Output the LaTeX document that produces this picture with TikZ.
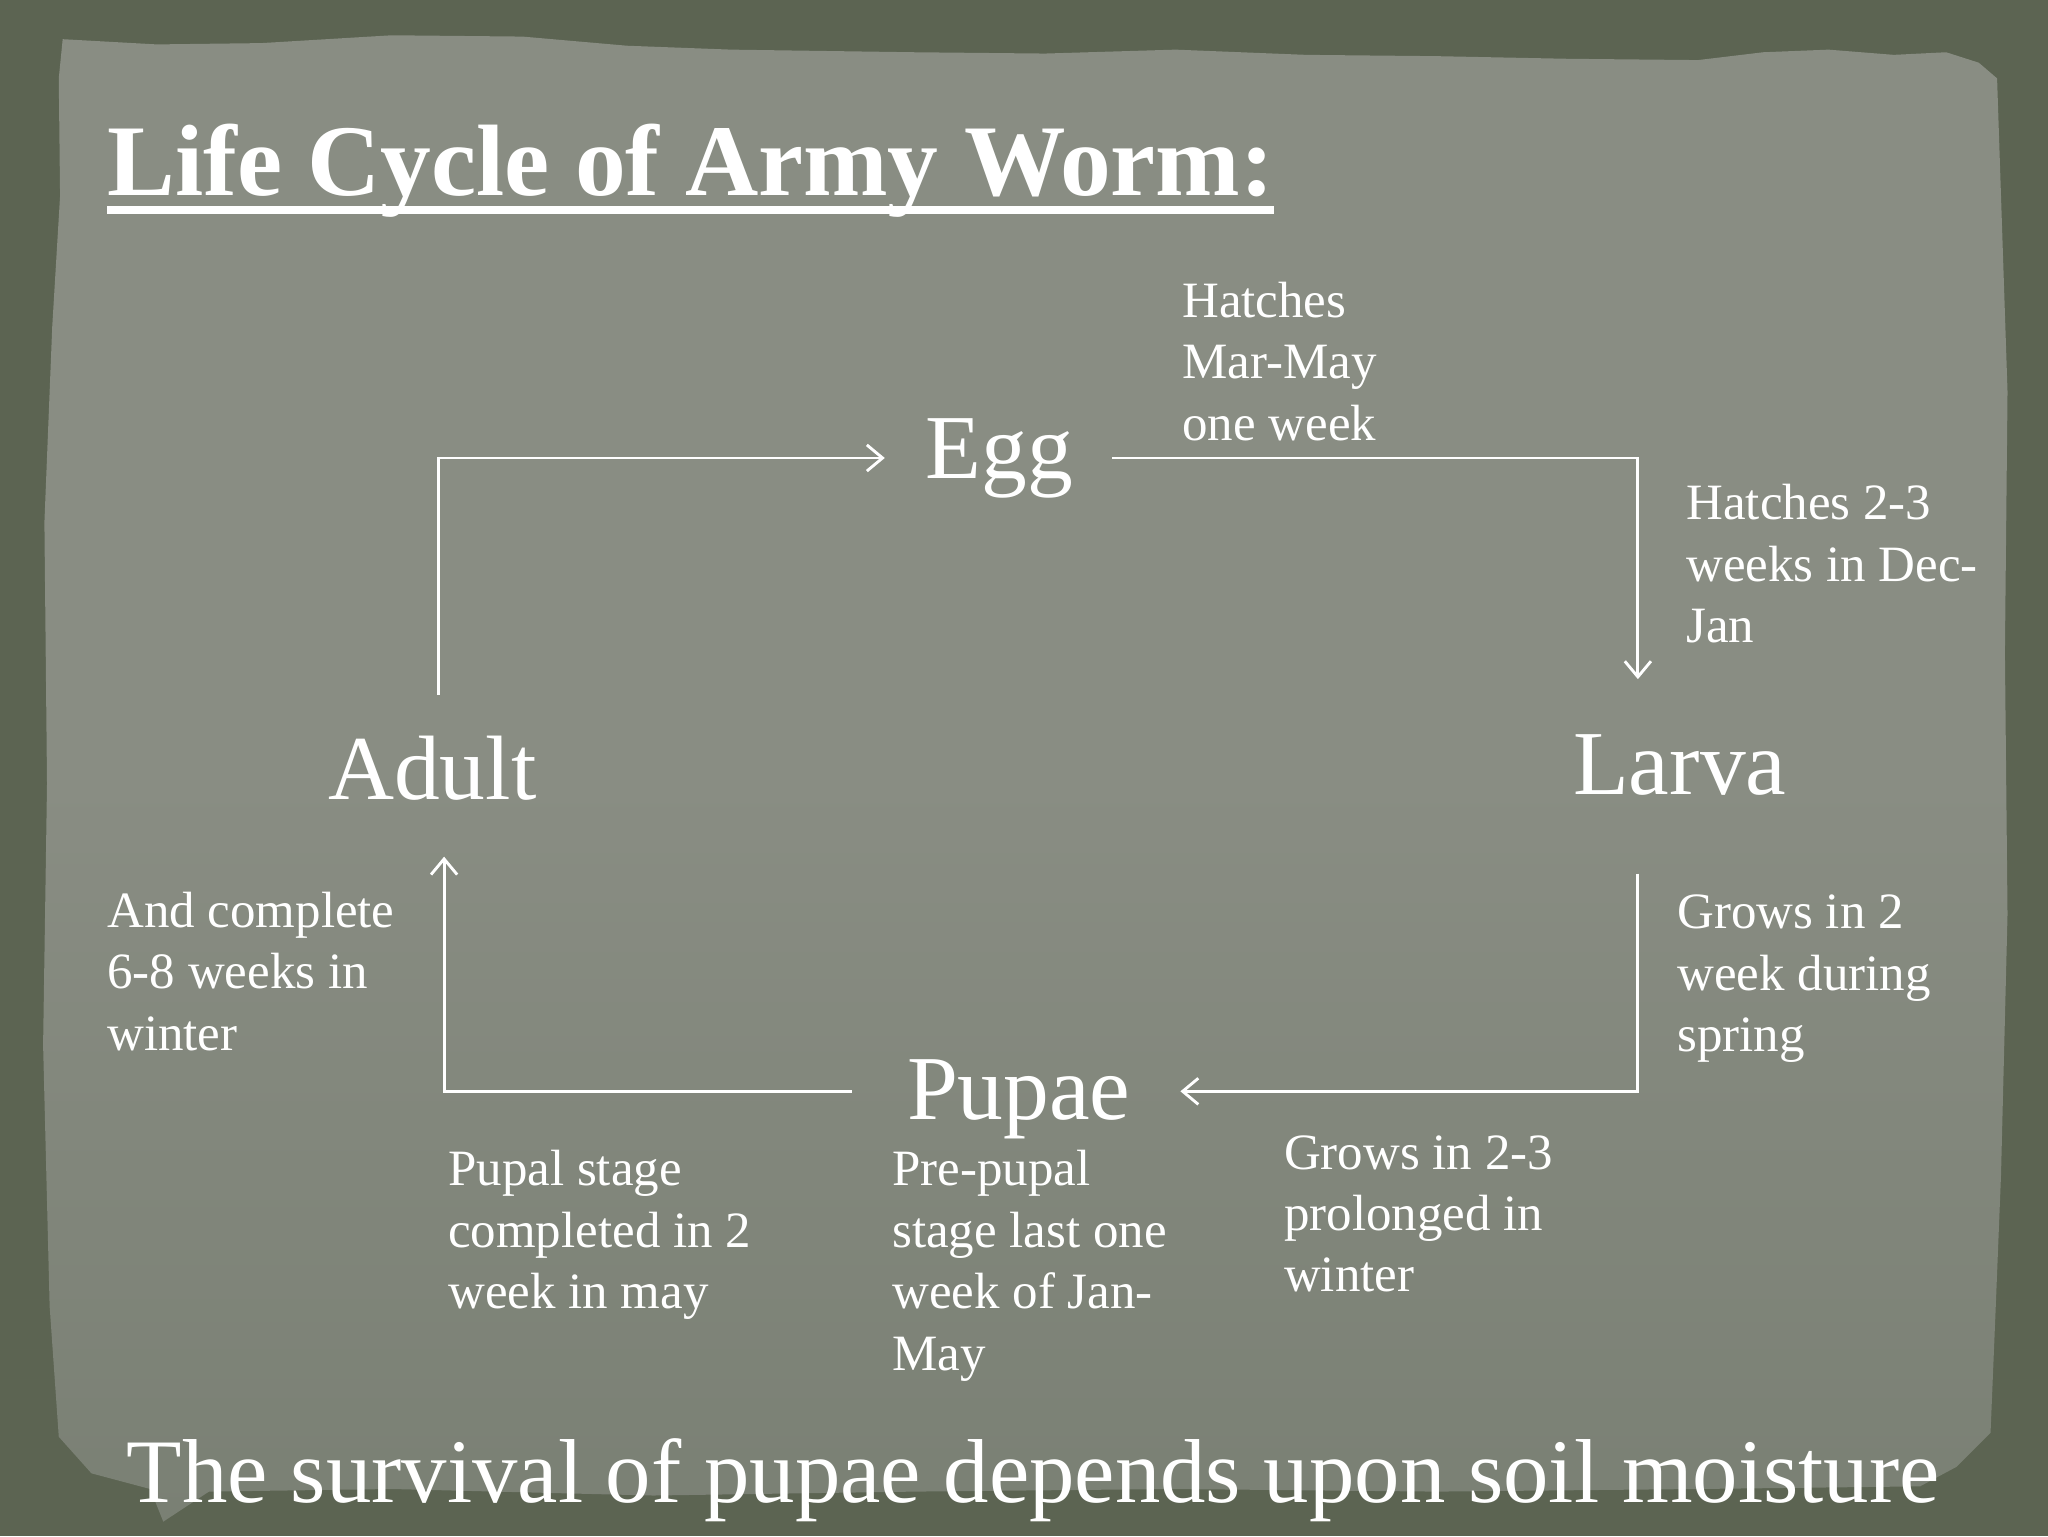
\documentclass[tikz,border=0pt]{standalone}
\usepackage{fontspec}
\setmainfont{Liberation Serif}
\usetikzlibrary{arrows.meta}
\definecolor{frame}{HTML}{5C6452}
\definecolor{paper}{HTML}{898D83}
\definecolor{paperdark}{HTML}{7A8074}
\tikzset{
  lbl/.style={anchor=base west, inner sep=0pt, text=white, font=\fontsize{39}{47}\selectfont},
  stage/.style={anchor=base, inner sep=0pt, text=white, font=\fontsize{70}{80}\selectfont},
  arr/.style={draw=white, line width=2.2pt, -{Straight Barb[length=12pt,width=20pt,line width=2.2pt]}},
}
\newcommand{\lns}[1]{\begin{tabular}[t]{@{}l@{}}#1\end{tabular}}
\begin{document}
\begin{tikzpicture}[x=1pt,y=-1pt]
\useasboundingbox (0,0) rectangle (1568,1176);
\fill[frame] (0,0) rectangle (1568,1176);
% torn paper
\path[top color=paper, bottom color=paperdark, middle color=paper]
  (48,30) -- (120,34) -- (200,33) -- (300,27) -- (400,28) -- (480,35) -- (560,38) -- (700,40)
  -- (800,41) -- (900,38) -- (1000,42) -- (1100,43) -- (1200,45) -- (1300,46) -- (1350,40)
  -- (1400,38) -- (1450,42) -- (1490,40) -- (1515,48) -- (1529,60) -- (1532,150) -- (1537,300)
  -- (1535,500) -- (1537,700) -- (1532,900) -- (1528,1000) -- (1524,1097) -- (1498,1123)
  -- (1470,1138) -- (1300,1140) -- (1100,1142) -- (900,1140) -- (700,1142) -- (500,1145)
  -- (300,1140) -- (160,1142) -- (125,1165) -- (115,1140) -- (70,1128) -- (45,1100)
  -- (38,1000) -- (33,800) -- (36,600) -- (34,400) -- (40,250) -- (46,150) -- (45,60) -- cycle;

% title
\node[anchor=base west, inner sep=0pt, text=white, font=\bfseries\fontsize{77.7}{90}\selectfont]
  (title) at (82,150) {Life Cycle of Army Worm:};
\fill[white] ([yshift=-8pt]title.base west) rectangle ([yshift=-14pt]title.base east);

% stages
\node[stage] (egg)   at (765,366) {Egg};
\node[stage] (adult) at (331,612) {Adult};
\node[stage] (larva) at (1286,608) {Larva};
\node[stage] (pupae) at (780,857) {Pupae};

% connectors
\draw[arr] ([xshift=5pt,yshift=31pt]adult.north) |- ([xshift=-31pt]egg.west);
\draw[arr] ([xshift=30pt]egg.east) -| ([xshift=-32pt,yshift=42pt]larva.north);
\draw[arr] ([xshift=-32pt,yshift=-60pt]larva.south) |- ([xshift=38pt,yshift=6pt]pupae.east);
\draw[arr] ([xshift=-42pt,yshift=6pt]pupae.west) -| ([xshift=9pt,yshift=-43pt]adult.south);

% labels
\node[lbl] (l1) at (905,243)  {\lns{Hatches\\Mar-May\\one week}};
\node[lbl] (l2) at (1291,398) {\lns{Hatches 2-3\\weeks in Dec-\\Jan}};
\node[lbl] (l3) at (1284,711) {\lns{Grows in 2\\week during\\spring}};
\node[lbl] (l4) at (983,895)  {\lns{Grows in 2-3\\prolonged in\\winter}};
\node[lbl] (l5) at (683,908)  {\lns{Pre-pupal\\stage last one\\week of Jan-\\May}};
\node[lbl] (l6) at (343,908)  {\lns{Pupal stage\\completed in 2\\week in may}};
\node[lbl] (l7) at (82,710)   {\lns{And complete\\6-8 weeks in\\winter}};

% bottom note
\node[anchor=base west, inner sep=0pt, text=white, font=\fontsize{69.5}{80}\selectfont]
  (note) at (97,1150) {The survival of pupae depends upon soil moisture};
\end{tikzpicture}
\end{document}
